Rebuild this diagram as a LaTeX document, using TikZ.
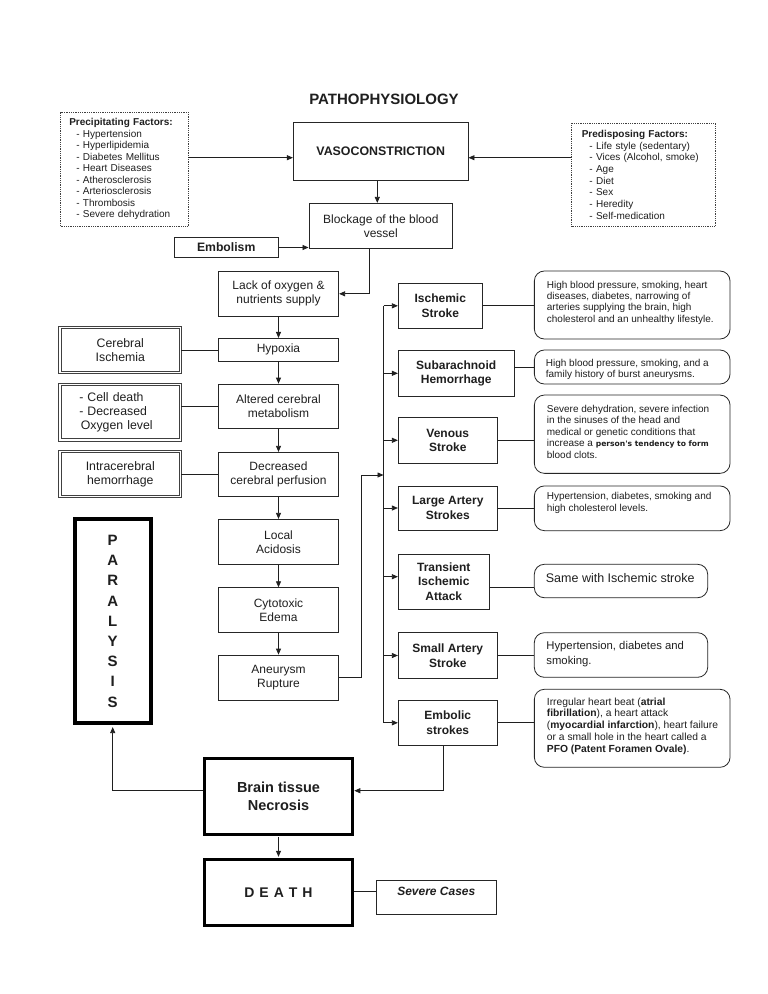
\documentclass[tikz,border=0pt]{standalone}
\usepackage{fontspec}
\setmainfont{Liberation Sans}
\newfontfamily\altfont{DejaVu Sans}
\usetikzlibrary{arrows.meta}
\begin{document}
\begin{tikzpicture}[x=1pt,y=-1pt,
  every node/.style={text=black!88},
  box/.style={draw=black!85, line width=0.8pt, inner sep=0pt, align=center},
  flow/.style={box, minimum width=120.4pt, font=\fontsize{12}{14}\selectfont},
  strk/.style={box, font=\fontsize{12}{14.5}\selectfont\bfseries},
  desc/.style={draw=black!85, line width=0.8pt, rounded corners=10pt, inner sep=0pt},
  desctxt/.style={anchor=north west, inner sep=0pt, align=left, font=\fontsize{10}{11.4}\selectfont},
  factor/.style={draw=black!75, densely dotted, line width=0.8pt, inner sep=0pt, align=left, font=\fontsize{10}{11.5}\selectfont},
  dbl/.style={draw=black!75, line width=1pt, double=white, double distance=1.3pt, inner sep=0pt, font=\fontsize{12.3}{14.2}\selectfont},
  heavy/.style={box, draw=black, line width=3pt},
  conn/.style={draw=black!88, line width=0.8pt},
  arr/.style={conn, -{Triangle[length=6pt,width=5pt]}}
]
\useasboundingbox[fill=white] (0,0) rectangle (768,994);

% title
\node[font=\fontsize{15}{18}\selectfont\bfseries] (title) at (384,99) {PATHOPHYSIOLOGY};

% factors
\node[factor, minimum width=127.3pt, minimum height=114.7pt, text width=110pt] (precip) at (124.3,169.3)
 {\textbf{Precipitating Factors:}\\
  \hspace*{7pt}- Hypertension\\
  \hspace*{7pt}- Hyperlipidemia\\
  \hspace*{7pt}- Diabetes Mellitus\\
  \hspace*{7pt}- Heart Diseases\\
  \hspace*{7pt}- Atherosclerosis\\
  \hspace*{7pt}- Arteriosclerosis\\
  \hspace*{7pt}- Thrombosis\\
  \hspace*{7pt}- Severe dehydration};
\node[factor, minimum width=143.3pt, minimum height=103.7pt, text width=123pt, font=\fontsize{10}{11.7}\selectfont] (predis) at (643.3,174.8)
 {\textbf{Predisposing Factors:}\\
  \hspace*{7.6pt}- Life style (sedentary)\\
  \hspace*{7.6pt}- Vices (Alcohol, smoke)\\
  \hspace*{7.6pt}- Age\\
  \hspace*{7.6pt}- Diet\\
  \hspace*{7.6pt}- Sex\\
  \hspace*{7.6pt}- Heredity\\
  \hspace*{7.6pt}- Self-medication};

\node[box, minimum width=174.7pt, minimum height=58pt, font=\fontsize{12.4}{14}\selectfont\bfseries] (vaso) at (380.7,151.7) {VASOCONSTRICTION};
\node[box, minimum width=143.7pt, minimum height=45pt, font=\fontsize{12}{14}\selectfont] (block) at (380.8,225.8) {Blockage of the blood\\vessel};
\node[box, minimum width=104.3pt, minimum height=20.7pt, font=\fontsize{12.2}{14}\selectfont\bfseries] (emb) at (226.2,247.5) {Embolism};

% main flow
\node[flow, minimum height=44.3pt] (lack) at (278.5,293.8) {Lack of oxygen \&\\nutrients supply};
\node[flow, minimum height=22.7pt] (hyp) at (278.5,349.7) {Hypoxia};
\node[flow, minimum height=44.3pt] (alt) at (278.5,406.2) {Altered cerebral\\metabolism};
\node[flow, minimum height=44.4pt] (decr) at (278.5,474.5) {Decreased\\cerebral perfusion};
\node[flow, minimum height=45pt] (local) at (278.5,541.8) {Local\\Acidosis};
\node[flow, minimum height=45pt] (cyto) at (278.5,610.2) {Cytotoxic\\Edema};
\node[flow, minimum height=45pt] (aneur) at (278.5,677.5) {Aneurysm\\Rupture};

% left double boxes
\node[dbl, minimum width=120.6pt, minimum height=44.6pt, align=center] (cer) at (120.3,350) {Cerebral\\Ischemia};
\node[dbl, minimum width=120.6pt, minimum height=55.6pt, align=left, text width=82pt] (cell) at (120.3,412.2) {- Cell death\\- Decreased\\\hspace*{1.5pt}Oxygen level};
\node[dbl, minimum width=120.6pt, minimum height=44.9pt, align=center] (intra) at (120.3,474.2) {Intracerebral\\hemorrhage};

% paralysis, necrosis, death
\node[box, draw=black, line width=4pt, minimum width=76pt, minimum height=203.7pt, font=\fontsize{15}{20.2}\selectfont\bfseries] (para) at (112.7,621.2) {P\\A\\R\\A\\L\\Y\\S\\I\\S};
\node[heavy, minimum width=148.6pt, minimum height=76.3pt, font=\fontsize{14.5}{17.7}\selectfont\bfseries] (brain) at (278.5,796.3) {Brain tissue\\Necrosis};
\node[heavy, minimum width=148.6pt, minimum height=65.4pt, font=\fontsize{14}{16}\selectfont\bfseries] (death) at (278.5,892.5) {D\hspace{5pt}E\hspace{5pt}A\hspace{5pt}T\hspace{5pt}H};
\node[box, minimum width=120.7pt, minimum height=33.3pt, text height=9pt, text depth=12pt, font=\fontsize{12}{14}\selectfont\bfseries\itshape] (severe) at (436.3,897.3) {Severe Cases};

% stroke types
\node[strk, minimum width=84pt, minimum height=45pt] (isch) at (440.3,305.8) {Ischemic\\Stroke};
\node[strk, minimum width=115.7pt, minimum height=45.3pt] (sub) at (456.2,373.3) {Subarachnoid\\Hemorrhage};
\node[strk, minimum width=99pt, minimum height=45.3pt] (ven) at (447.8,440.3) {Venous\\Stroke};
\node[strk, minimum width=99pt, minimum height=44pt] (large) at (447.8,508) {Large Artery\\Strokes};
\node[strk, minimum width=91pt, minimum height=55.3pt] (tia) at (443.8,581.7) {Transient\\Ischemic\\Attack};
\node[strk, minimum width=99pt, minimum height=45.6pt] (small) at (447.8,655.5) {Small Artery\\Stroke};
\node[strk, minimum width=99pt, minimum height=45.7pt] (embs) at (447.8,722.8) {Embolic\\strokes};

% descriptions
\node[desc, minimum width=195.7pt, minimum height=68pt] (d1) at (632.2,305) {};
\node[desc, minimum width=195.7pt, minimum height=34pt] (d2) at (632.2,367) {};
\node[desc, minimum width=195.7pt, minimum height=78.3pt] (d3) at (632.2,434.2) {};
\node[desc, minimum width=195.7pt, minimum height=44.7pt] (d4) at (632.2,508.3) {};
\node[desc, minimum width=173.4pt, minimum height=33.4pt] (d5) at (621,581) {};
\node[desc, minimum width=173.4pt, minimum height=44.6pt] (d6) at (621,655) {};
\node[desc, minimum width=195.7pt, minimum height=78pt] (d7) at (632.2,728.3) {};

\node[desctxt] (d1t) at (546.7,280.7) {High blood pressure, smoking, heart\\diseases, diabetes, narrowing of\\arteries supplying the brain, high\\cholesterol and an unhealthy lifestyle.};
\node[desctxt] (d2t) at (545.7,358.8) {High blood pressure, smoking, and a\\family history of burst aneurysms.};
\node[desctxt] (d3t) at (546.7,405.1) {Severe dehydration, severe infection\\in the sinuses of the head and\\medical or genetic conditions that\\increase a {\altfont\bfseries\fontsize{7.6}{11.4}\selectfont person's tendency to form}\\blood clots.};
\node[desctxt, font=\fontsize{10}{11.7}\selectfont] (d4t) at (546.7,492.1) {Hypertension, diabetes, smoking and\\high cholesterol levels.};
\node[anchor=base west, inner sep=0pt, font=\fontsize{12.5}{14}\selectfont] (d5t) at (545.7,582.7) {Same with Ischemic stroke};
\node[desctxt, font=\fontsize{11.3}{14.5}\selectfont] (d6t) at (546.2,641.2) {Hypertension, diabetes and\\smoking.};
\node[desctxt, font=\fontsize{10.3}{11.7}\selectfont] (d7t) at (546.7,697.6) {Irregular heart beat (\textbf{atrial}\\\textbf{fibrillation}), a heart attack\\(\textbf{myocardial infarction}), heart failure\\or a small hole in the heart called a\\\textbf{PFO (Patent Foramen Ovale)}.};

% top connectors
\draw[arr] ([yshift=-6pt]vaso.west -| precip.east) -- ([yshift=-6pt]vaso.west);
\draw[arr] ([yshift=-6pt]vaso.east -| predis.west) -- ([yshift=-6pt]vaso.east);
\draw[arr] ([xshift=-3.4pt]vaso.south) -- ([xshift=-3.4pt]vaso.south |- block.north);
\draw[arr] (emb.east) -- (emb.east -| block.west);
\draw[arr] ([xshift=-11.5pt]block.south) |- (lack.east);

% flow arrows
\draw[arr] (lack.south) -- (hyp.north);
\draw[arr] (hyp.south) -- (alt.north);
\draw[arr] (alt.south) -- (decr.north);
\draw[arr] (decr.south) -- (local.north);
\draw[arr] (local.south) -- (cyto.north);
\draw[arr] (cyto.south) -- (aneur.north);

% side links
\draw[conn] (cer.east) -- (cer.east -| hyp.west);
\draw[conn] (alt.west -| cell.east) -- (alt.west);
\draw[conn] (intra.east) -- (intra.east -| decr.west);

% trunk
\coordinate (trunk) at (383.5,0);
\coordinate (jn) at (361.7,475);
\draw[conn] (trunk |- isch.west) -- (trunk |- embs.west);
\draw[arr] (aneur.east) -| (jn) -- (jn -| trunk);
\draw[arr] (trunk |- isch.west) -- (isch.west);
\draw[arr] (trunk |- sub.west) -- (sub.west);
\draw[arr] (trunk |- ven.west) -- (ven.west);
\draw[arr] (trunk |- large.west) -- (large.west);
\draw[arr] ([yshift=5pt]tia.west -| trunk) -- ([yshift=5pt]tia.west);
\draw[arr] (trunk |- small.west) -- (small.west);
\draw[arr] (trunk |- embs.west) -- (embs.west);

% description links
\draw[conn] (isch.east) -- (isch.east -| d1.west);
\draw[conn] (d2.west -| sub.east) -- (d2.west);
\draw[conn] (ven.east) -- (ven.east -| d3.west);
\draw[conn] (large.east) -- (large.east -| d4.west);
\draw[conn] ([yshift=-6pt]tia.east) -- ([yshift=-6pt]tia.east -| d5.west);
\draw[conn] (small.east) -- (small.east -| d6.west);
\draw[conn] (embs.east) -- (embs.east -| d7.west);

% bottom
\draw[arr] ([xshift=-4pt]embs.south) |- ([yshift=5.6pt]brain.east);
\draw[arr] ([yshift=5.6pt]brain.west) -| ([yshift=-2pt]para.south);
\draw[arr] ([yshift=-1.5pt]brain.south) -- ([yshift=1.5pt]death.north);
\draw[conn] ([yshift=0.8pt]death.east) -- ([yshift=0.8pt]death.east -| severe.west);
\end{tikzpicture}
\end{document}
